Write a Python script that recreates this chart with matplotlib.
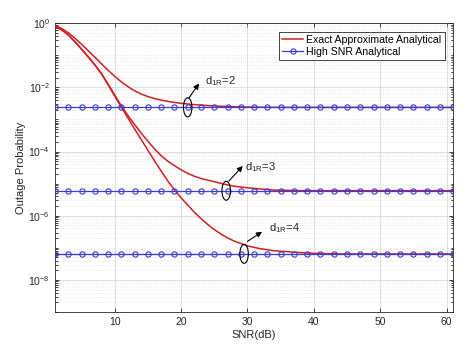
import numpy as np
import matplotlib
matplotlib.use("Agg")
import matplotlib.pyplot as plt
from matplotlib.patches import Ellipse
from matplotlib.transforms import ScaledTranslation
from matplotlib.ticker import LogLocator, NullFormatter, FixedLocator

plt.rcParams['font.family'] = ['Liberation Sans', 'DejaVu Sans']
plt.rcParams['mathtext.fontset'] = 'custom'
plt.rcParams['mathtext.rm'] = 'Liberation Sans'
plt.rcParams['mathtext.it'] = 'Liberation Sans'

# exact approximate analytical curves (log10 of Pout)
snr_exact = [1, 2, 3, 4, 5, 6, 7, 8, 9, 10, 11, 12, 13, 14, 15, 16, 17, 18, 19, 20,
             21, 22, 23, 24, 25, 26, 27, 28, 30, 32, 34, 36, 38, 40, 44, 50, 61]
log_exact_d2 = [-0.08, -0.17, -0.30, -0.47, -0.66, -0.86, -1.06, -1.27, -1.47, -1.66,
                -1.83, -1.98, -2.11, -2.21, -2.29, -2.35, -2.40, -2.44, -2.47, -2.50,
                -2.52, -2.54, -2.555, -2.57, -2.58, -2.59, -2.60, -2.605, -2.615, -2.62,
                -2.625, -2.625, -2.625, -2.625, -2.625, -2.625, -2.625]
log_exact_d3 = [-0.11, -0.21, -0.37, -0.58, -0.81, -1.05, -1.30, -1.57, -1.90, -2.24,
                -2.58, -2.88, -3.16, -3.43, -3.68, -3.92, -4.13, -4.30, -4.44, -4.57,
                -4.68, -4.77, -4.84, -4.89, -4.94, -4.99, -5.04, -5.08, -5.13, -5.17,
                -5.20, -5.21, -5.22, -5.22, -5.22, -5.22, -5.22]
log_exact_d4 = [-0.11, -0.21, -0.37, -0.58, -0.81, -1.05, -1.30, -1.58, -1.92, -2.27,
                -2.62, -2.96, -3.30, -3.63, -3.96, -4.29, -4.61, -4.92, -5.19, -5.44,
                -5.67, -5.89, -6.09, -6.27, -6.43, -6.57, -6.69, -6.79, -6.94, -7.03,
                -7.09, -7.12, -7.15, -7.17, -7.19, -7.19, -7.19]

# high SNR analytical floors
snr_high = list(range(1, 62, 2))
floor_d2 = 2.37e-3
floor_d3 = 6.0e-6
floor_d4 = 6.5e-8

labels = [r'd$_{\mathregular{1R}}$=2', r'd$_{\mathregular{1R}}$=3', r'd$_{\mathregular{1R}}$=4']

red = '#d11f1f'
blue = '#3c3cd2'
dark = '#262626'

fig = plt.figure(figsize=(4.74, 3.55), dpi=100)
ax = fig.add_axes([0.116, 0.121, 0.840, 0.814])

for i, logs in enumerate([log_exact_d2, log_exact_d3, log_exact_d4]):
    ax.plot(snr_exact, 10 ** np.array(logs), color=red, lw=1.1,
            label='Exact Approximate Analytical' if i == 0 else None, zorder=3)
for i, fl in enumerate([floor_d2, floor_d3, floor_d4]):
    ax.plot(snr_high, np.full(len(snr_high), fl), color=blue, lw=0.9, marker='o',
            ms=3.8, mfc='none', mec=blue, mew=0.8,
            label='High SNR Analytical' if i == 0 else None, zorder=4)

ax.set_yscale('log')
ax.set_xlim(1, 61)
ax.set_ylim(1e-9, 1)
ax.xaxis.set_major_locator(FixedLocator([10, 20, 30, 40, 50, 60]))
ax.yaxis.set_major_locator(FixedLocator([1e-8, 1e-6, 1e-4, 1e-2, 1]))
ax.yaxis.set_minor_locator(LogLocator(base=10, subs=np.arange(1, 10), numticks=20))
ax.yaxis.set_minor_formatter(NullFormatter())

ax.grid(True, which='major', color='#d9d9d9', lw=0.6)
ax.grid(True, which='minor', axis='y', color='#e3e3e3', lw=0.5, ls=':')
ax.set_axisbelow(True)
ax.tick_params(which='both', direction='in', top=True, right=True, colors=dark,
               labelsize=7.5, length=3, width=0.6)
ax.tick_params(which='minor', length=1.8)
for s in ax.spines.values():
    s.set_color(dark)
    s.set_linewidth(0.6)

ax.set_xlabel('SNR(dB)', fontsize=8, color=dark, labelpad=2)
ax.set_ylabel('Outage Probability', fontsize=8, color=dark, labelpad=2)

# ellipses + arrows marking each curve
marks = [(21.0, floor_d2, 22.7, -1.88, 21.2, -2.33, 23.6, -1.80),
         (26.8, floor_d3, 29.3, -4.45, 27.2, -4.92, 29.6, -4.50),
         (29.5, floor_d4, 32.2, -6.50, 30.0, -6.80, 33.3, -6.40)]
for (ex, ey, hx, hy, tx, ty, lx, ly), lab in zip(marks, labels):
    tr = fig.dpi_scale_trans + ScaledTranslation(ex, ey, ax.transData)
    ax.add_patch(Ellipse((0, 0), 0.085, 0.19, transform=tr, fill=False,
                         ec='black', lw=0.8, zorder=5))
    ax.annotate('', xy=(hx, 10 ** hy), xytext=(tx, 10 ** ty),
                arrowprops=dict(arrowstyle='-|>', color='black', lw=0.8,
                                mutation_scale=8, shrinkA=0, shrinkB=0), zorder=5)
    ax.text(lx, 10 ** ly, lab, fontsize=8, color=dark, va='center', ha='left')

leg = ax.legend(loc='upper right', fontsize=7.6, frameon=True, fancybox=False,
                edgecolor=dark, framealpha=1, borderpad=0.3, labelspacing=0.2,
                handlelength=2.0, handletextpad=0.3, borderaxespad=0.8)
leg.get_frame().set_linewidth(0.6)

fig.savefig('out.png', dpi=100)
